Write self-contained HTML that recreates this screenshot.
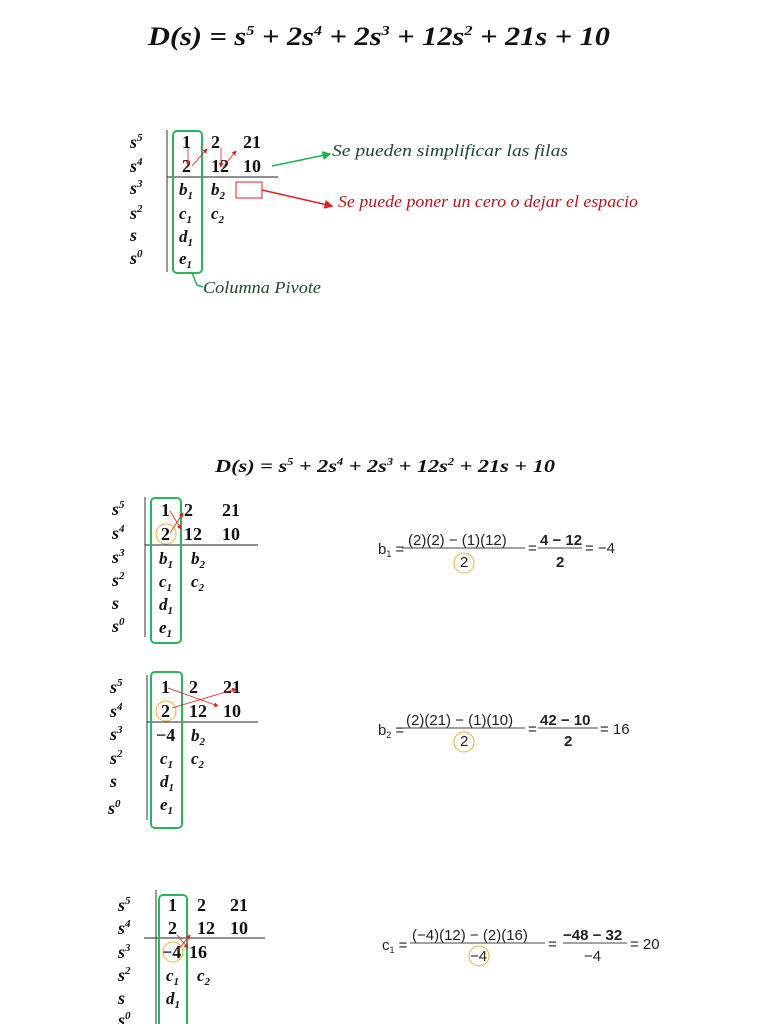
<!DOCTYPE html>
<html><head><meta charset="utf-8"><style>
html,body{margin:0;padding:0;background:#fff;width:768px;height:1024px;overflow:hidden}
svg{display:block}
text{font-family:"Liberation Serif",serif;fill:#111}
.lb{font-weight:bold;font-style:italic;font-size:18px}
.n{font-weight:bold;font-size:18px}
.v{font-weight:bold;font-style:italic;font-size:17px}
.f{font-family:"Liberation Sans",sans-serif;font-size:15px;fill:#222}
</style></head><body>
<svg width="768" height="1024" viewBox="0 0 768 1024" xmlns="http://www.w3.org/2000/svg">
<defs>
<marker id="ar" markerWidth="6" markerHeight="6" refX="5" refY="3" orient="auto"><path d="M0,0L6,3L0,6z" fill="#e02020"/></marker>
<marker id="ag" markerWidth="6" markerHeight="6" refX="5" refY="3" orient="auto"><path d="M0,0L6,3L0,6z" fill="#20b050"/></marker>
</defs>

<text x="148" y="45" font-size="26" font-weight="bold" font-style="italic" textLength="462" lengthAdjust="spacingAndGlyphs">D(s) = s<tspan dy="-10" font-size="14">5</tspan><tspan dy="10"> + 2s</tspan><tspan dy="-10" font-size="14">4</tspan><tspan dy="10"> + 2s</tspan><tspan dy="-10" font-size="14">3</tspan><tspan dy="10"> + 12s</tspan><tspan dy="-10" font-size="14">2</tspan><tspan dy="10"> + 21s + 10</tspan></text>

<g>
<text class="lb" x="130" y="148">s<tspan dy="-7" font-size="11">5</tspan></text>
<text class="lb" x="130" y="172">s<tspan dy="-7" font-size="11">4</tspan></text>
<text class="lb" x="130" y="194">s<tspan dy="-7" font-size="11">3</tspan></text>
<text class="lb" x="130" y="219">s<tspan dy="-7" font-size="11">2</tspan></text>
<text class="lb" x="130" y="241">s</text>
<text class="lb" x="130" y="264">s<tspan dy="-7" font-size="11">0</tspan></text>
<line x1="167" y1="130" x2="167" y2="272" stroke="#333" stroke-width="1"/>
<line x1="167" y1="177" x2="278" y2="177" stroke="#222" stroke-width="1"/>
<rect x="173" y="131" width="29" height="142" rx="4" fill="none" stroke="#2bb55a" stroke-width="2"/>
<text class="n" x="182" y="148">1</text><text class="n" x="211" y="148">2</text><text class="n" x="243" y="148">21</text>
<text class="n" x="182" y="172">2</text><text class="n" x="211" y="172">12</text><text class="n" x="243" y="172">10</text>
<text class="v" x="179" y="195">b<tspan dy="4" font-size="11">1</tspan></text><text class="v" x="211" y="195">b<tspan dy="4" font-size="11">2</tspan></text>
<text class="v" x="179" y="219">c<tspan dy="4" font-size="11">1</tspan></text><text class="v" x="211" y="219">c<tspan dy="4" font-size="11">2</tspan></text>
<text class="v" x="179" y="242">d<tspan dy="4" font-size="11">1</tspan></text>
<text class="v" x="179" y="264">e<tspan dy="4" font-size="11">1</tspan></text>
<line x1="188" y1="148" x2="188" y2="165" stroke="#e02020" stroke-width="0.8" marker-end="url(#ar)"/>
<line x1="192" y1="166" x2="207" y2="149" stroke="#e02020" stroke-width="0.8" marker-end="url(#ar)"/>
<line x1="221" y1="148" x2="221" y2="167" stroke="#e02020" stroke-width="0.8" marker-end="url(#ar)"/>
<line x1="223" y1="167" x2="236" y2="151" stroke="#e02020" stroke-width="0.8" marker-end="url(#ar)"/>
<rect x="236" y="182" width="26" height="16" fill="none" stroke="#e02020" stroke-width="1"/>
<line x1="272" y1="166" x2="330" y2="154" stroke="#20b050" stroke-width="1.5" marker-end="url(#ag)"/>
<text x="332" y="156" font-size="17" font-style="italic" style="fill:#1a4a2a" textLength="236" lengthAdjust="spacingAndGlyphs">Se pueden simplificar las filas</text>
<line x1="262" y1="190" x2="332" y2="206" stroke="#e02020" stroke-width="1.5" marker-end="url(#ar)"/>
<text x="338" y="207" font-size="17" font-style="italic" style="fill:#b01818" textLength="300" lengthAdjust="spacingAndGlyphs">Se puede poner un cero o dejar el espacio</text>
<path d="M192,273 L197,285 L203,287" fill="none" stroke="#20b050" stroke-width="1.5"/>
<text x="203" y="293" font-size="17" font-style="italic" style="fill:#1a4a2a" textLength="118" lengthAdjust="spacingAndGlyphs">Columna Pivote</text>
</g>

<text x="215" y="472" font-size="18" font-weight="bold" font-style="italic" textLength="340" lengthAdjust="spacingAndGlyphs">D(s) = s<tspan dy="-7" font-size="10">5</tspan><tspan dy="7"> + 2s</tspan><tspan dy="-7" font-size="10">4</tspan><tspan dy="7"> + 2s</tspan><tspan dy="-7" font-size="10">3</tspan><tspan dy="7"> + 12s</tspan><tspan dy="-7" font-size="10">2</tspan><tspan dy="7"> + 21s + 10</tspan></text>

<g>
<text class="lb" x="112" y="515">s<tspan dy="-7" font-size="11">5</tspan></text>
<text class="lb" x="112" y="539">s<tspan dy="-7" font-size="11">4</tspan></text>
<text class="lb" x="112" y="563">s<tspan dy="-7" font-size="11">3</tspan></text>
<text class="lb" x="112" y="586">s<tspan dy="-7" font-size="11">2</tspan></text>
<text class="lb" x="112" y="609">s</text>
<text class="lb" x="112" y="632">s<tspan dy="-7" font-size="11">0</tspan></text>
<line x1="145" y1="497" x2="145" y2="637" stroke="#333"/>
<line x1="145" y1="545" x2="258" y2="545" stroke="#222"/>
<rect x="151" y="498" width="30" height="145" rx="4" fill="none" stroke="#2bb55a" stroke-width="2"/>
<text class="n" x="161" y="516">1</text><text class="n" x="184" y="516">2</text><text class="n" x="222" y="516">21</text>
<text class="n" x="161" y="540">2</text><text class="n" x="184" y="540">12</text><text class="n" x="222" y="540">10</text>
<circle cx="166" cy="534" r="10" fill="none" stroke="#f0b030" stroke-width="1"/>
<text class="v" x="159" y="564">b<tspan dy="4" font-size="11">1</tspan></text><text class="v" x="191" y="564">b<tspan dy="4" font-size="11">2</tspan></text>
<text class="v" x="159" y="587">c<tspan dy="4" font-size="11">1</tspan></text><text class="v" x="191" y="587">c<tspan dy="4" font-size="11">2</tspan></text>
<text class="v" x="159" y="610">d<tspan dy="4" font-size="11">1</tspan></text>
<text class="v" x="159" y="633">e<tspan dy="4" font-size="11">1</tspan></text>
<line x1="170" y1="511" x2="181" y2="529" stroke="#e02020" stroke-width="0.8" marker-end="url(#ar)"/>
<line x1="170" y1="533" x2="183" y2="513" stroke="#e02020" stroke-width="0.8" marker-end="url(#ar)"/>
<text class="f" x="378" y="554">b<tspan dy="3" font-size="9">1</tspan><tspan dy="-3"> = </tspan></text>
<text class="f" x="408" y="545">(2)(2) − (1)(12)</text>
<line x1="402" y1="548" x2="525" y2="548" stroke="#444"/>
<text class="f" x="460" y="567">2</text>
<circle cx="464" cy="563" r="10" fill="none" stroke="#f0b030" stroke-width="1"/>
<text class="f" x="528" y="553">=</text>
<text class="f" x="540" y="545" font-weight="bold">4 − 12</text>
<line x1="538" y1="548" x2="582" y2="548" stroke="#444"/>
<text class="f" x="556" y="567" font-weight="bold">2</text>
<text class="f" x="585" y="553">= −4</text>
</g>

<g>
<text class="lb" x="110" y="693">s<tspan dy="-7" font-size="11">5</tspan></text>
<text class="lb" x="110" y="717">s<tspan dy="-7" font-size="11">4</tspan></text>
<text class="lb" x="110" y="740">s<tspan dy="-7" font-size="11">3</tspan></text>
<text class="lb" x="110" y="764">s<tspan dy="-7" font-size="11">2</tspan></text>
<text class="lb" x="110" y="787">s</text>
<text class="lb" x="108" y="814">s<tspan dy="-7" font-size="11">0</tspan></text>
<line x1="147" y1="675" x2="147" y2="820" stroke="#333"/>
<line x1="147" y1="722" x2="258" y2="722" stroke="#222"/>
<rect x="151" y="672" width="31" height="156" rx="4" fill="none" stroke="#2bb55a" stroke-width="2"/>
<text class="n" x="161" y="693">1</text><text class="n" x="189" y="693">2</text><text class="n" x="223" y="693">21</text>
<text class="n" x="161" y="717">2</text><text class="n" x="189" y="717">12</text><text class="n" x="223" y="717">10</text>
<circle cx="166" cy="711" r="10" fill="none" stroke="#f0b030" stroke-width="1"/>
<text class="n" x="156" y="741">−4</text><text class="v" x="191" y="741">b<tspan dy="4" font-size="11">2</tspan></text>
<text class="v" x="160" y="764">c<tspan dy="4" font-size="11">1</tspan></text><text class="v" x="191" y="764">c<tspan dy="4" font-size="11">2</tspan></text>
<text class="v" x="160" y="787">d<tspan dy="4" font-size="11">1</tspan></text>
<text class="v" x="160" y="810">e<tspan dy="4" font-size="11">1</tspan></text>
<line x1="168" y1="688" x2="218" y2="706" stroke="#e02020" stroke-width="0.8" marker-end="url(#ar)"/>
<line x1="172" y1="708" x2="236" y2="689" stroke="#e02020" stroke-width="0.8" marker-end="url(#ar)"/>
<text class="f" x="378" y="735">b<tspan dy="3" font-size="9">2</tspan><tspan dy="-3"> = </tspan></text>
<text class="f" x="406" y="725">(2)(21) − (1)(10)</text>
<line x1="402" y1="728" x2="525" y2="728" stroke="#444"/>
<text class="f" x="460" y="746">2</text>
<circle cx="464" cy="742" r="10" fill="none" stroke="#f0b030" stroke-width="1"/>
<text class="f" x="528" y="734">=</text>
<text class="f" x="540" y="725" font-weight="bold">42 − 10</text>
<line x1="538" y1="728" x2="598" y2="728" stroke="#444"/>
<text class="f" x="564" y="746" font-weight="bold">2</text>
<text class="f" x="600" y="734">= 16</text>
</g>

<g>
<text class="lb" x="118" y="911">s<tspan dy="-7" font-size="11">5</tspan></text>
<text class="lb" x="118" y="934">s<tspan dy="-7" font-size="11">4</tspan></text>
<text class="lb" x="118" y="958">s<tspan dy="-7" font-size="11">3</tspan></text>
<text class="lb" x="118" y="981">s<tspan dy="-7" font-size="11">2</tspan></text>
<text class="lb" x="118" y="1004">s</text>
<text class="lb" x="118" y="1026">s<tspan dy="-7" font-size="11">0</tspan></text>
<line x1="156" y1="890" x2="156" y2="1024" stroke="#333"/>
<line x1="144" y1="938" x2="265" y2="938" stroke="#222"/>
<rect x="159" y="895" width="28" height="135" rx="4" fill="none" stroke="#2bb55a" stroke-width="2"/>
<text class="n" x="168" y="911">1</text><text class="n" x="197" y="911">2</text><text class="n" x="230" y="911">21</text>
<text class="n" x="168" y="934">2</text><text class="n" x="197" y="934">12</text><text class="n" x="230" y="934">10</text>
<text class="n" x="162" y="958">−4</text><text class="n" x="189" y="958">16</text>
<circle cx="173" cy="952" r="10" fill="none" stroke="#f0b030" stroke-width="1"/>
<text class="v" x="166" y="981">c<tspan dy="4" font-size="11">1</tspan></text><text class="v" x="197" y="981">c<tspan dy="4" font-size="11">2</tspan></text>
<text class="v" x="166" y="1004">d<tspan dy="4" font-size="11">1</tspan></text>
<line x1="178" y1="950" x2="190" y2="935" stroke="#e02020" stroke-width="0.8" marker-end="url(#ar)"/>
<line x1="177" y1="935" x2="188" y2="948" stroke="#e02020" stroke-width="0.8" marker-end="url(#ar)"/>
<text class="f" x="382" y="950">c<tspan dy="3" font-size="9">1</tspan><tspan dy="-3"> = </tspan></text>
<text class="f" x="412" y="940">(−4)(12) − (2)(16)</text>
<line x1="410" y1="943" x2="545" y2="943" stroke="#444"/>
<text class="f" x="470" y="961">−4</text>
<circle cx="479" cy="956" r="10" fill="none" stroke="#f0b030" stroke-width="1"/>
<text class="f" x="548" y="949">=</text>
<text class="f" x="563" y="940" font-weight="bold">−48 − 32</text>
<line x1="563" y1="943" x2="627" y2="943" stroke="#444"/>
<text class="f" x="584" y="961">−4</text>
<text class="f" x="630" y="949">= 20</text>
</g>
</svg>
</body></html>
